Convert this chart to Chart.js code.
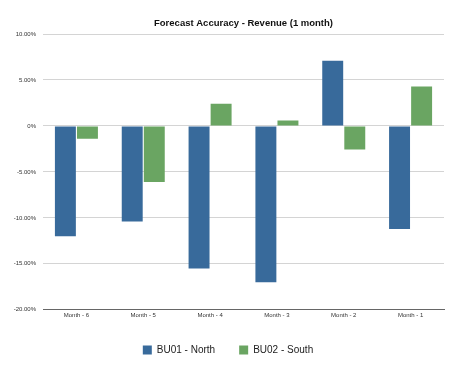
<!DOCTYPE html>
<html>
<head>
<meta charset="utf-8">
<script src="https://cdn.jsdelivr.net/npm/chart.js@4"></script>
<style>
  html, body { margin: 0; padding: 0; background: #fff; }
  #wrap { width: 474px; height: 368px; }
</style>
</head>
<body>
<div id="wrap"><canvas id="forecastChart"></canvas></div>
<script>
const months = ['Month - 6', 'Month - 5', 'Month - 4', 'Month - 3', 'Month - 2', 'Month - 1'];
const north = [-12.0, -10.4, -15.5, -17.0, 7.1, -11.2];
const south = [-1.4, -6.1, 2.4, 0.6, -2.55, 4.3];
const yTicks = [10, 5, 0, -5, -10, -15, -20];

const chartTitle = 'Forecast Accuracy - Revenue (1 month)';
const fontFamily = 'Liberation Sans, Arial, sans-serif';

// title centred over the plot area, like the original
const plotTitle = {
  id: 'plotTitle',
  afterDraw(chart) {
    const c = chart.ctx;
    const area = chart.chartArea;
    c.save();
    c.font = 'bold 9.5px ' + fontFamily;
    c.fillStyle = '#111';
    c.textAlign = 'center';
    c.textBaseline = 'middle';
    c.fillText(chartTitle, (area.left + area.right) / 2, 23);
    c.restore();
  }
};

const ctx = document.getElementById('forecastChart').getContext('2d');
new Chart(ctx, {
  type: 'bar',
  data: {
    labels: months,
    datasets: [{
      label: 'BU01 - North',
      data: north,
      backgroundColor: '#386a9b',
      borderWidth: 0
    }, {
      label: 'BU02 - South',
      data: south,
      backgroundColor: '#6aa562',
      borderWidth: 0
    }]
  },
  options: {
    responsive: true,
    maintainAspectRatio: false,
    animation: false,
    categoryPercentage: 0.66,
    barPercentage: 0.95,
    layout: {
      padding: { left: 12, right: 30, top: 34, bottom: 3 }
    },
    plugins: {
      title: { display: false },
      legend: {
        position: 'bottom',
        labels: {
          color: '#222',
          font: { family: fontFamily, size: 10 },
          boxWidth: 9,
          boxHeight: 9,
          padding: 24
        }
      },
      tooltip: { enabled: false }
    },
    scales: {
      x: {
        grid: { display: false, drawTicks: false },
        border: { display: true, color: '#666', width: 1 },
        ticks: {
          color: '#333',
          font: { family: fontFamily, size: 6 },
          padding: 2
        }
      },
      y: {
        min: -20,
        max: 10,
        afterBuildTicks: (axis) => { axis.ticks = yTicks.map(v => ({ value: v })); },
        afterFit: (axis) => { axis.width = 31; },
        grid: { color: '#d4d4d4', lineWidth: 1, drawTicks: false },
        border: { display: false },
        ticks: {
          color: '#333',
          font: { family: fontFamily, size: 6 },
          padding: 7,
          callback: (v) => v === 0 ? '0%' : v.toFixed(2) + '%'
        }
      }
    }
  },
  plugins: [plotTitle]
});
</script>
</body>
</html>
